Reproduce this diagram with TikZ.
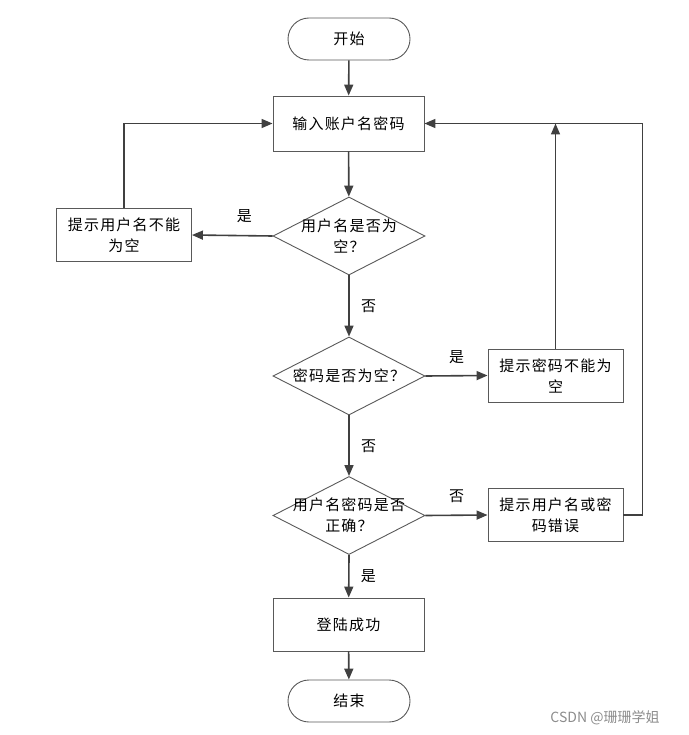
\documentclass[tikz,border=0pt]{standalone}
\usepackage{fontspec}
\setmainfont{Noto Sans CJK SC}[LetterSpace=8]
\newfontfamily\markfont{Noto Sans CJK SC}
\usetikzlibrary{arrows.meta,shapes,positioning}

\begin{document}
\begin{tikzpicture}[x=1pt,y=-1pt,font=\fontsize{15}{21}\selectfont,
  term/.style={draw=black!65, line width=0.9pt, rectangle, rounded corners=21pt, minimum width=122pt, minimum height=42pt},
  proc/.style={draw=black!65, line width=0.9pt, rectangle, minimum width=151pt, minimum height=55pt, align=center},
  msg/.style={draw=black!65, line width=0.9pt, rectangle, minimum width=135pt, minimum height=53pt, align=center, inner sep=2pt},
  decide/.style={draw=black!65, line width=0.9pt, diamond, minimum width=152pt, minimum height=78pt, inner sep=0pt},
  flow/.style={draw=black!75, line width=1.6pt, -{Triangle[length=11pt,width=9pt]}},
  lbl/.style={font=\fontsize{15}{17}\selectfont}]
\useasboundingbox (0,0) rectangle (688,735);
\node (start) [term] at (349,39) {开始};
\node (input) [proc] at (348.5,123.5) {输入账户名密码};
\node (d1) [decide] at (349,236) {};
\node [align=center] at (d1) {用户名是否为\\空？};
\node (empty1) [msg] at (124,235) {提示用户名不能\\为空};
\node (d2) [decide] at (349,376) {};
\node at (d2) {密码是否为空？};
\node (empty2) [msg] at (555.5,375.5) {提示密码不能为\\空};
\node (d3) [decide] at (349,515.5) {};
\node [align=center] at (d3) {用户名密码是否\\正确？};
\node (wrong) [msg] at (555.5,515) {提示用户名或密\\码错误};
\node (ok) [proc, minimum height=53pt] at (348.5,624.5) {登陆成功};
\node (end) [term] at (349,701) {结束};
\node (mark) [text=black!45, font=\markfont\fontsize{14}{16}\selectfont] at (605,718) {CSDN @珊珊学姐};
% connectors
\draw[flow] (start) -- (input);
\draw[flow] (input) -- (d1);
\draw[flow] (d1.west) -- node[lbl, above=9pt, pos=0.35] {是} (empty1.east);
\draw[flow] (empty1.north) |- (input.west);
\draw[flow] (d1.south) -- node[lbl, right=8pt] {否} (d2.north);
\draw[flow] (d2.east) -- node[lbl, above=8pt] {是} (empty2.west);
\draw[flow] (empty2.north) -- (empty2.north |- input.east);
\draw[flow] (d2.south) -- node[lbl, right=8pt] {否} (d3.north);
\draw[flow] (d3.east) -- node[lbl, above=8pt] {否} (wrong.west);
\draw[flow] (wrong.east) -- ++(19,0) |- (input.east);
\draw[flow] (d3.south) -- node[lbl, right=8pt] {是} (ok);
\draw[flow] (ok) -- (end);
\end{tikzpicture}
\end{document}
